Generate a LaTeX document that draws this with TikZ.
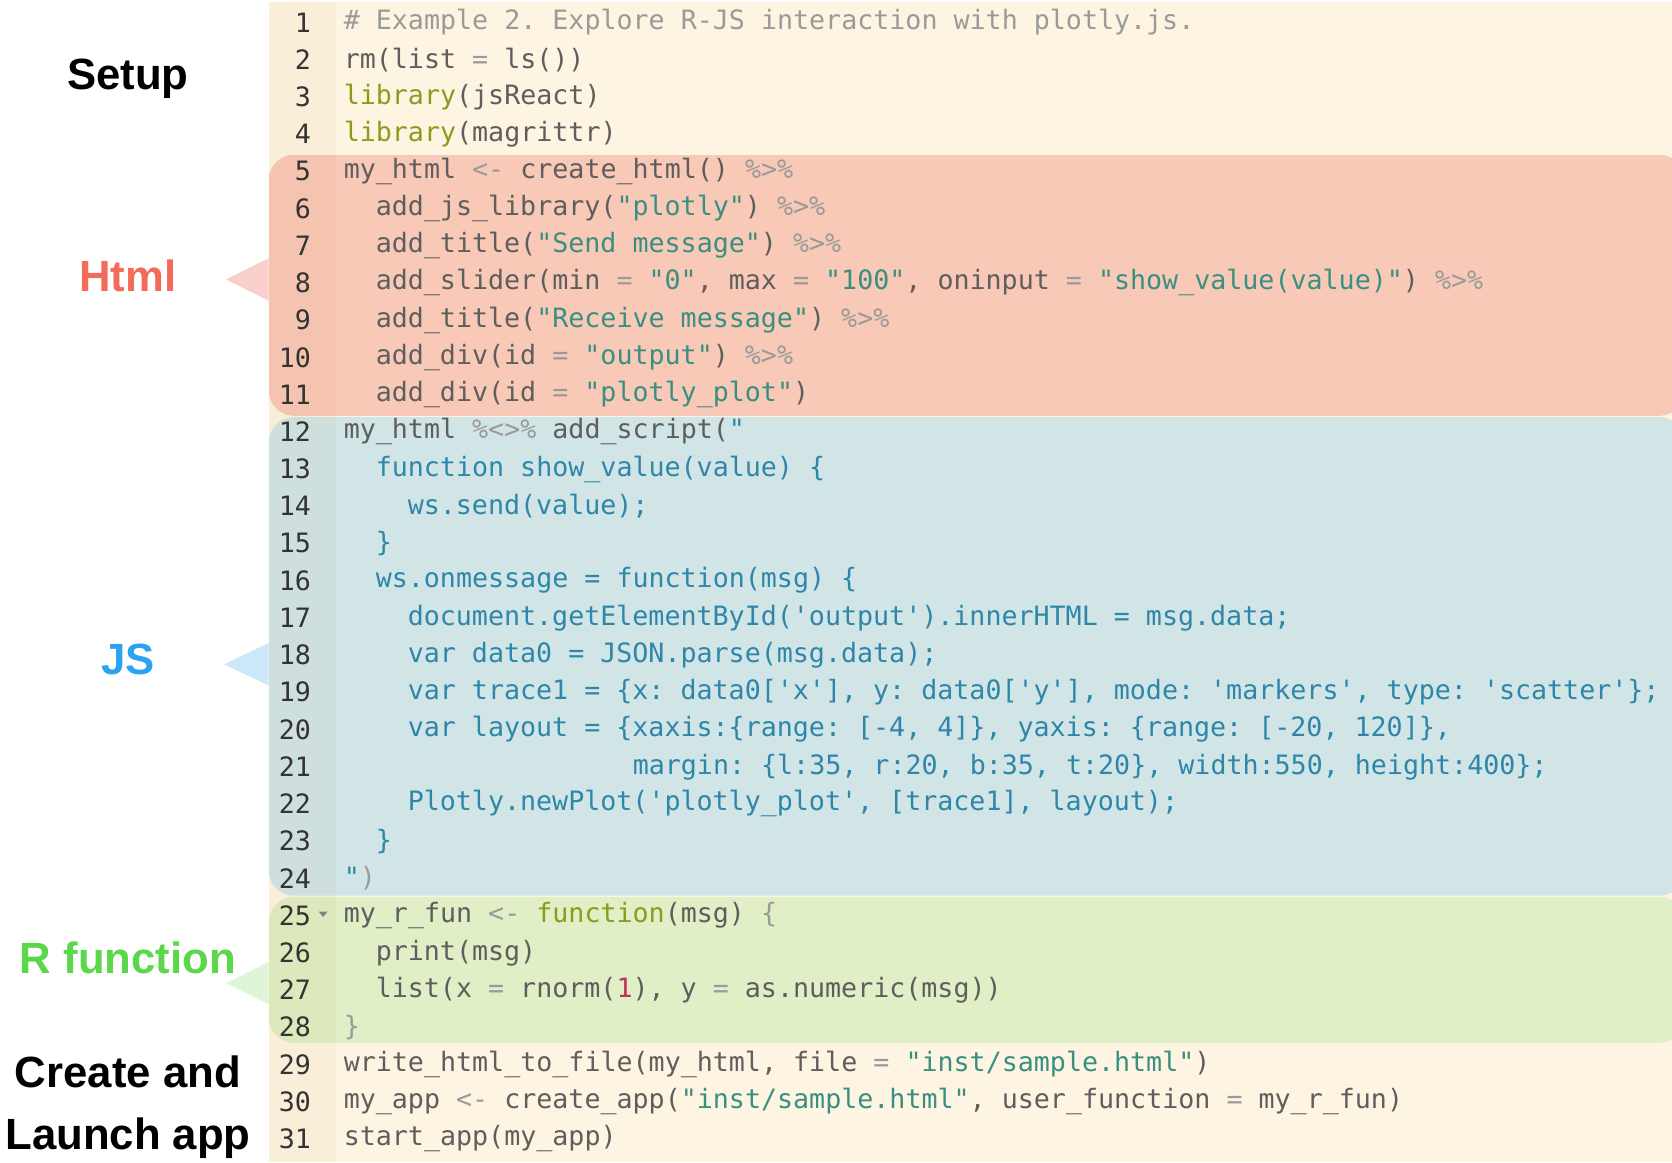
\documentclass[tikz,border=0pt]{standalone}
\usepackage{fontspec}
\setmainfont{Liberation Sans}
\setmonofont{DejaVu Sans Mono}

\definecolor{setupbg}{HTML}{FDF5E2}
\definecolor{htmlbg}{HTML}{F8C9B7}
\definecolor{jsbg}{HTML}{D1E5E7}
\definecolor{rfunbg}{HTML}{E0EFC5}
\definecolor{htmllab}{HTML}{F26B5B}
\definecolor{jslab}{HTML}{2AA3F0}
\definecolor{rfunlab}{HTML}{5CD64A}
\definecolor{htmltri}{HTML}{F9CFCC}
\definecolor{jstri}{HTML}{CDE8F8}
\definecolor{rfuntri}{HTML}{DEF5D8}
\definecolor{codefg}{HTML}{5E5E5E}
\definecolor{strfg}{HTML}{3A8F82}
\definecolor{funfg}{HTML}{8A9C1E}
\definecolor{opfg}{HTML}{9A9A9A}
\definecolor{numfg}{HTML}{C0305A}
\definecolor{jsfg}{HTML}{2E86A8}

\newcommand{\cS}[1]{\textcolor{strfg}{#1}}
\newcommand{\cF}[1]{\textcolor{funfg}{#1}}
\newcommand{\cO}[1]{\textcolor{opfg}{#1}}
\newcommand{\cN}[1]{\textcolor{numfg}{#1}}

\tikzset{
  codeln/.style={anchor=west, inner sep=0pt, text=codefg, font=\ttfamily\fontsize{12.5}{14}\selectfont},
  jsln/.style={codeln, text=jsfg},
  numln/.style={anchor=east, inner sep=0pt, text=black!80, font=\ttfamily\fontsize{12.5}{14}\selectfont},
  seclab/.style={align=center, font=\bfseries\fontsize{20.5}{25}\selectfont},
}

\newcommand{\band}[3]{%
  \begin{scope}
    \clip[rounded corners=12] (252,#1) rectangle (1580,#2);
    \fill[#3] (252,#1) rectangle (1580,#2);
    \fill[brown, opacity=0.06] (252,#1) rectangle (315,#2);
  \end{scope}}

\begin{document}
\begin{tikzpicture}[x=0.5pt, y=-0.5pt]
  \useasboundingbox (0,0) rectangle (1568,1090);

  % bands
  \fill[setupbg] (252,2) rectangle (1568,1090);
  \fill[brown, opacity=0.06] (252,2) rectangle (315,1090);
  \band{145}{390}{htmlbg}
  \band{391}{840}{jsbg}
  \band{841}{978}{rfunbg}

  % pointers
  \fill[htmltri] (252,242) -- (212,262) -- (252,282) -- cycle;
  \fill[jstri] (252,603) -- (210,623) -- (252,643) -- cycle;
  \fill[rfuntri] (252,902) -- (212,922) -- (252,942) -- cycle;

  % section labels
  \node[seclab] (setup) at (120,74) {Setup};
  \node[seclab, text=htmllab] (html) at (120,259) {Html};
  \node[seclab, text=jslab] (js) at (120,618) {JS};
  \node[seclab, text=rfunlab] (rfun) at (120,898) {R function};
  \node[seclab] (launch) at (120,1038) {Create and\\[4pt]Launch app};

  % line numbers
  \foreach \i in {1,...,31}
    \node[numln] (n\i) at (292,{21+(\i-1)*34.9}) {\i};
  \fill[black!50] (299,855) -- (307,855) -- (303,860) -- cycle;

  % code
  \node[codeln, text=opfg] (c1) at (322,21) {\# Example 2. Explore R-JS interaction with plotly.js.};
  \node[codeln] (c2) at (322,55.9) {rm(list \cO{=} ls())};
  \node[codeln] (c3) at (322,90.8) {\cF{library}(jsReact)};
  \node[codeln] (c4) at (322,125.7) {\cF{library}(magrittr)};
  \node[codeln] (c5) at (322,160.6) {my\_html \cO{<-} create\_html() \cO{\%>\%}};
  \node[codeln] (c6) at (352,195.5) {add\_js\_library(\cS{"plotly"}) \cO{\%>\%}};
  \node[codeln] (c7) at (352,230.4) {add\_title(\cS{"Send message"}) \cO{\%>\%}};
  \node[codeln] (c8) at (352,265.3) {add\_slider(min \cO{=} \cS{"0"}, max \cO{=} \cS{"100"}, oninput \cO{=} \cS{"show\_value(value)"}) \cO{\%>\%}};
  \node[codeln] (c9) at (352,300.2) {add\_title(\cS{"Receive message"}) \cO{\%>\%}};
  \node[codeln] (c10) at (352,335.1) {add\_div(id \cO{=} \cS{"output"}) \cO{\%>\%}};
  \node[codeln] (c11) at (352,370) {add\_div(id \cO{=} \cS{"plotly\_plot"})};
  \node[codeln] (c12) at (322,404.9) {my\_html \cO{\%<>\%} add\_script(\textcolor{jsfg}{"}};
  \node[jsln] (c13) at (352,439.8) {function show\_value(value) \{};
  \node[jsln] (c14) at (382,474.7) {ws.send(value);};
  \node[jsln] (c15) at (352,509.6) {\}};
  \node[jsln] (c16) at (352,544.5) {ws.onmessage = function(msg) \{};
  \node[jsln] (c17) at (382,579.4) {document.getElementById('output').innerHTML = msg.data;};
  \node[jsln] (c18) at (382,614.3) {var data0 = JSON.parse(msg.data);};
  \node[jsln] (c19) at (382,649.2) {var trace1 = \{x: data0['x'], y: data0['y'], mode: 'markers', type: 'scatter'\};};
  \node[jsln] (c20) at (382,684.1) {var layout = \{xaxis:\{range: [-4, 4]\}, yaxis: \{range: [-20, 120]\},};
  \node[jsln] (c21) at (593,719) {margin: \{l:35, r:20, b:35, t:20\}, width:550, height:400\};};
  \node[jsln] (c22) at (382,753.9) {Plotly.newPlot('plotly\_plot', [trace1], layout);};
  \node[jsln] (c23) at (352,788.8) {\}};
  \node[jsln] (c24) at (322,823.7) {"\cO{)}};
  \node[codeln] (c25) at (322,858.6) {my\_r\_fun \cO{<-} \cF{function}(msg) \cO{\{}};
  \node[codeln] (c26) at (352,893.5) {print(msg)};
  \node[codeln] (c27) at (352,928.4) {list(x \cO{=} rnorm(\cN{1}), y \cO{=} as.numeric(msg))};
  \node[codeln] (c28) at (322,963.3) {\cO{\}}};
  \node[codeln] (c29) at (322,998.2) {write\_html\_to\_file(my\_html, file \cO{=} \cS{"inst/sample.html"})};
  \node[codeln] (c30) at (322,1033.1) {my\_app \cO{<-} create\_app(\cS{"inst/sample.html"}, user\_function \cO{=} my\_r\_fun)};
  \node[codeln] (c31) at (322,1068) {start\_app(my\_app)};
\end{tikzpicture}
\end{document}
